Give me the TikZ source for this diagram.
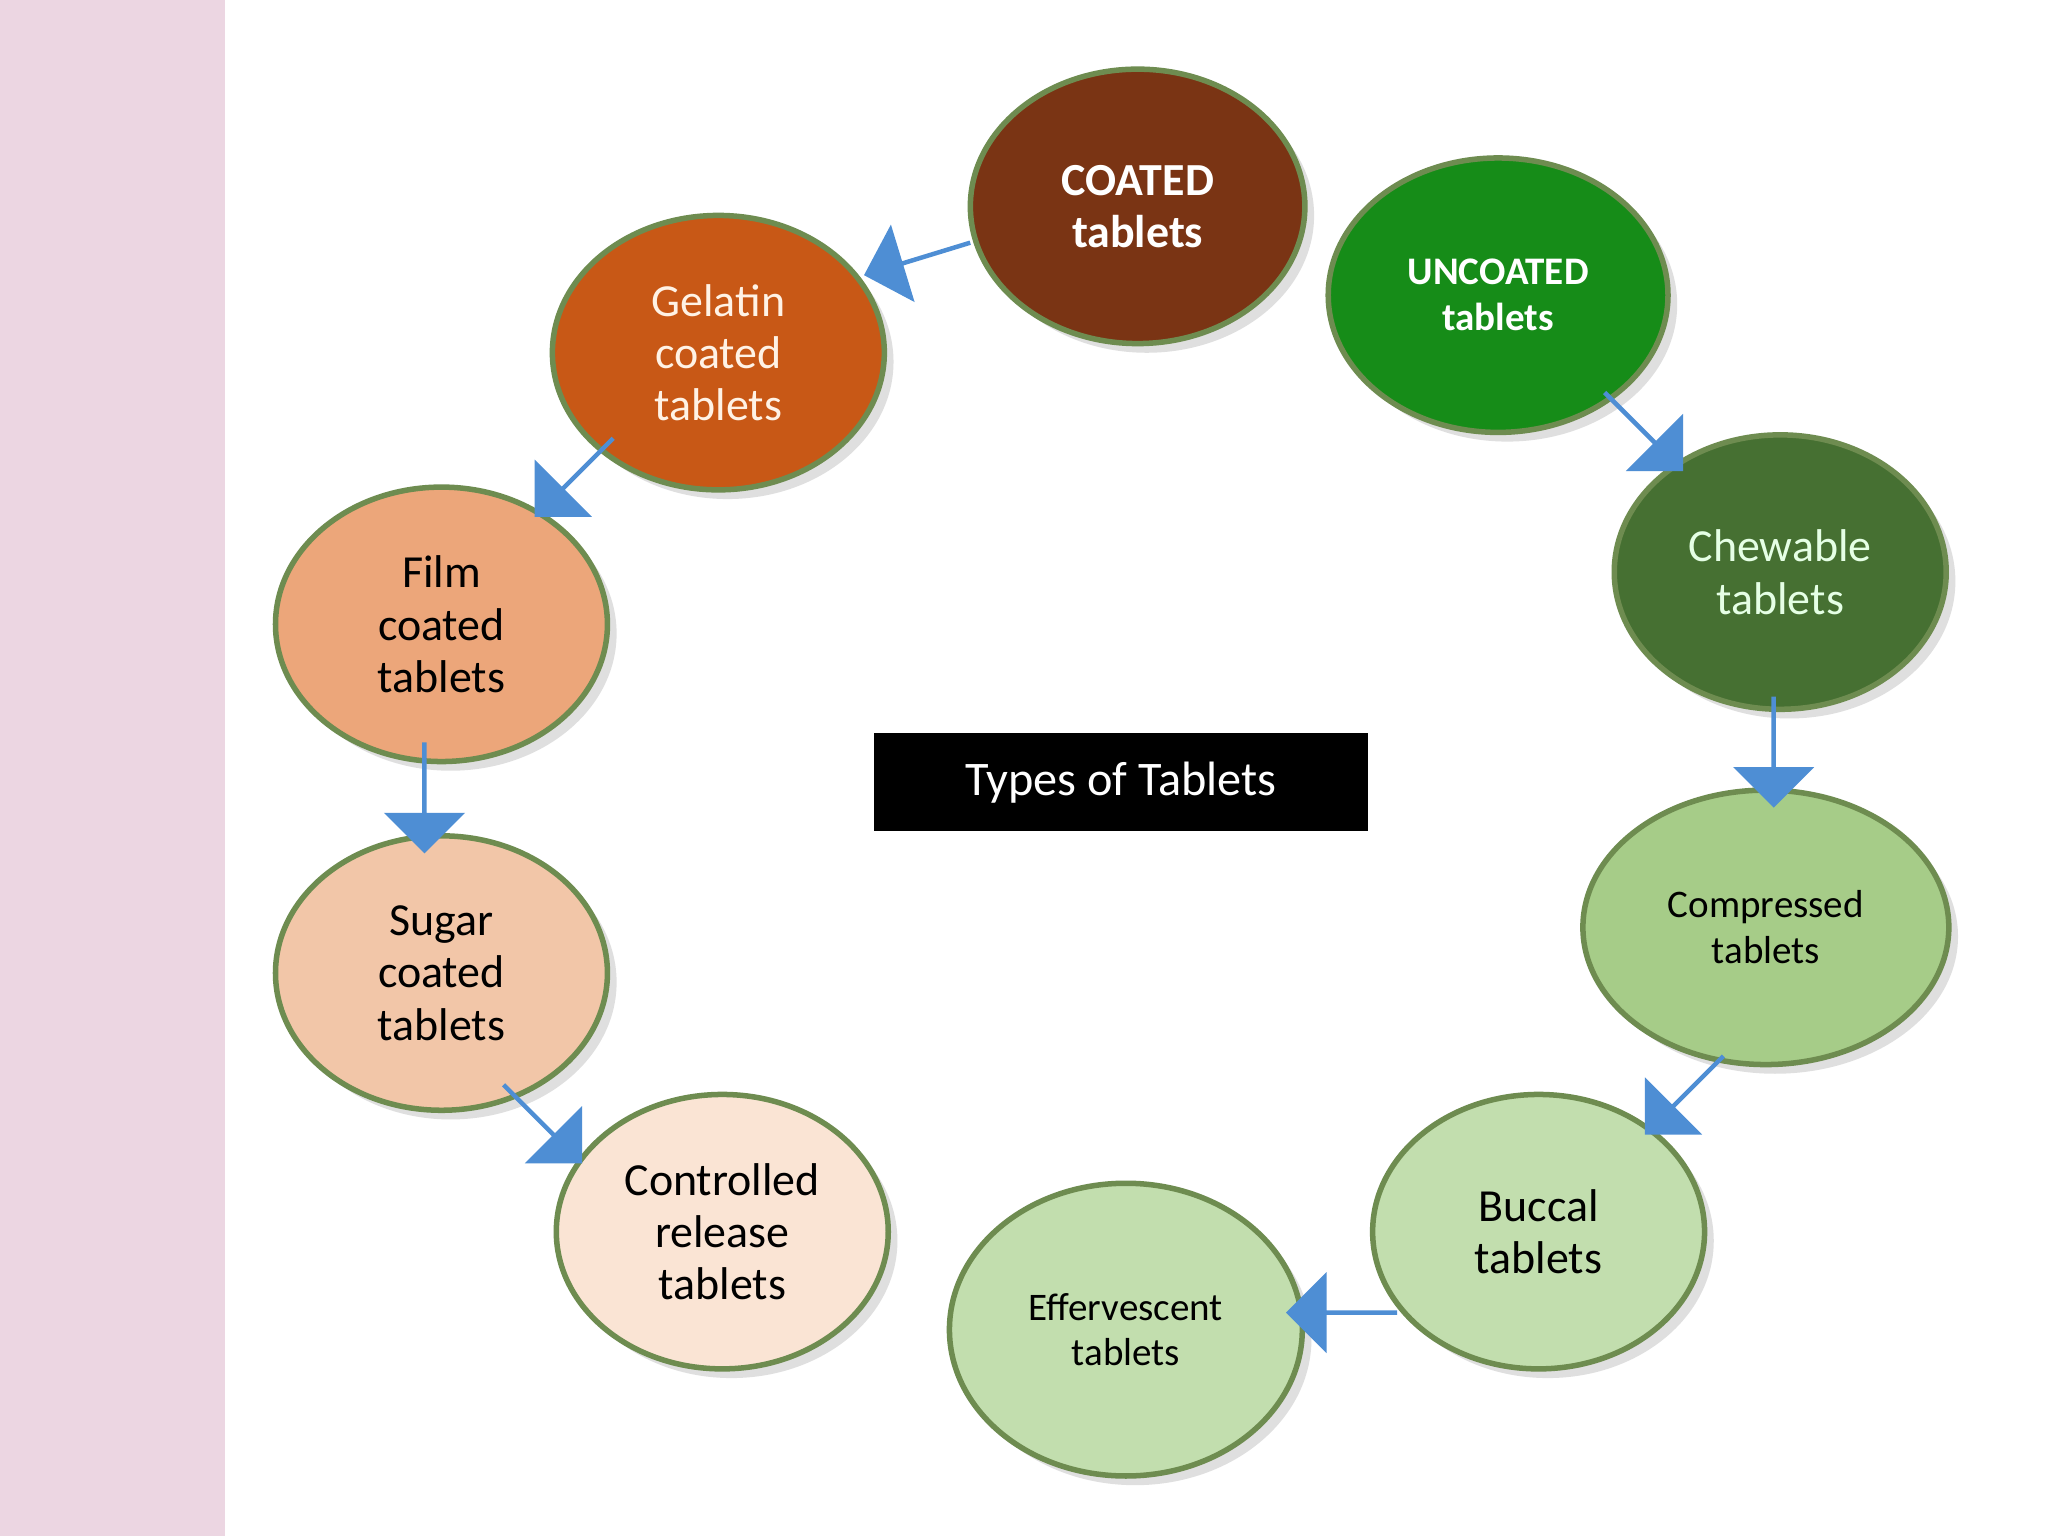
\documentclass[tikz,border=0pt]{standalone}
\usepackage{fontspec}
\setmainfont{Carlito}
\usetikzlibrary{shapes.geometric,shapes.arrows,shadows}
\definecolor{strip}{RGB}{236,214,226}
\definecolor{cbrown}{RGB}{122,52,20}
\definecolor{cgreen}{RGB}{22,140,24}
\definecolor{corange}{RGB}{200,88,22}
\definecolor{cdgreen}{RGB}{70,112,50}
\definecolor{cfilm}{RGB}{236,166,122}
\definecolor{ccomp}{RGB}{166,204,136}
\definecolor{csugar}{RGB}{242,198,168}
\definecolor{cctrl}{RGB}{250,228,212}
\definecolor{clight}{RGB}{194,222,174}
\definecolor{cedge}{RGB}{110,140,80}
\definecolor{carrow}{RGB}{78,142,212}
\tikzset{
 tab/.style={ellipse,draw=cedge,line width=1.2pt,align=center,inner sep=0pt,
   drop shadow={opacity=0.25,shadow xshift=2pt,shadow yshift=-2pt},
   font=\fontsize{10}{11.4}\selectfont},
 blk/.style={single arrow,fill=carrow,draw=none,minimum height=0.85cm,minimum width=0.62cm,
   single arrow head extend=0.12cm,inner sep=0pt}
}
\begin{document}
\begin{tikzpicture}[x=0.01cm,y=-0.01cm]
\useasboundingbox (0,0) rectangle (1568,1176);
\fill[white] (0,0) rectangle (1568,1176);
\fill[strip] (0,0) rectangle (172,1176);
\node[tab,fill=cbrown,text=white,minimum width=2.56cm,minimum height=2.1cm,font=\fontsize{10}{11.4}\selectfont\bfseries] (coated) at (871,158) {COATED\\tablets};
\node[tab,fill=cgreen,text=white,minimum width=2.6cm,minimum height=2.1cm,font=\fontsize{8.5}{10}\selectfont\bfseries] (uncoated) at (1147,226) {UNCOATED\\tablets};
\node[tab,fill=corange,text=white!90!orange,minimum width=2.54cm,minimum height=2.1cm] (gelatin) at (550,270) {Gelatin\\coated\\tablets};
\node[tab,fill=cdgreen,text=white!90!green,minimum width=2.54cm,minimum height=2.1cm] (chew) at (1363,438) {Chewable\\tablets};
\node[tab,fill=cfilm,minimum width=2.54cm,minimum height=2.1cm] (film) at (338,478) {Film\\coated\\tablets};
\node[tab,fill=ccomp,minimum width=2.8cm,minimum height=2.1cm,font=\fontsize{8.5}{10}\selectfont] (comp) at (1352,710) {Compressed\\tablets};
\node[tab,fill=csugar,minimum width=2.54cm,minimum height=2.1cm] (sugar) at (338,745) {Sugar\\coated\\tablets};
\node[tab,fill=cctrl,minimum width=2.54cm,minimum height=2.1cm] (ctrl) at (553,943) {Controlled\\release\\tablets};
\node[tab,fill=clight,minimum width=2.54cm,minimum height=2.1cm] (buccal) at (1178,943) {Buccal\\tablets};
\node[tab,fill=clight,minimum width=2.7cm,minimum height=2.24cm,font=\fontsize{8.5}{10}\selectfont] (eff) at (862,1018) {Effervescent\\tablets};
\node[fill=black,text=white,minimum width=3.78cm,minimum height=0.75cm,font=\fontsize{10.5}{12}\selectfont] (title) at (858,599) {Types of Tablets};
\node[blk,rotate=197] (a1) at (703,198) {};
\node[blk,rotate=225] (a2) at (440,365) {};
\node[blk,rotate=270] (a3) at (325,610) {};
\node[blk,rotate=315] (a4) at (415,860) {};
\node[blk,rotate=315] (a5) at (1258,330) {};
\node[blk,rotate=270] (a6) at (1358,575) {};
\node[blk,rotate=225] (a7) at (1290,838) {};
\node[blk,rotate=180] (a8) at (1028,1005) {};
\end{tikzpicture}
\end{document}
